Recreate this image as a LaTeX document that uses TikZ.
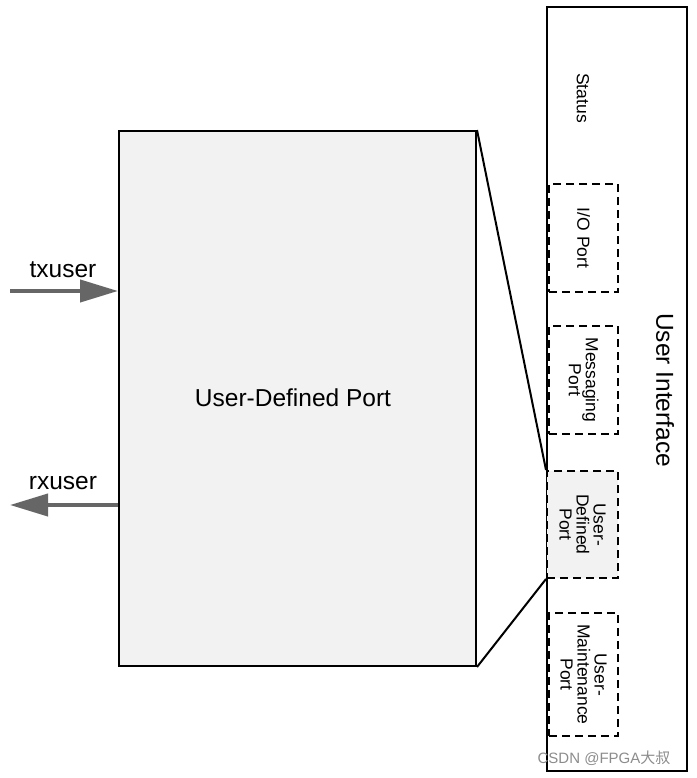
\documentclass[tikz,border=0pt]{standalone}
\usepackage{fontspec}
\setmainfont{Liberation Sans}
\newfontfamily\cjk{Noto Sans CJK SC}
\usetikzlibrary{arrows.meta}
\begin{document}
\begin{tikzpicture}[x=1pt,y=-1pt,
  box/.style={draw,line width=2pt},
  dbox/.style={draw,line width=2pt,dash pattern=on 8pt off 5pt},
  vlab/.style={rotate=-90,font=\fontsize{17.5}{17}\selectfont,align=center},
  arr/.style={draw=black!60,line width=4pt,-{Triangle[length=38pt,width=22pt]}},
  lab/.style={font=\fontsize{24.5}{26}\selectfont}]
\useasboundingbox (0,0) rectangle (696,778);
\node[box,fill=black!5,minimum width=357pt,minimum height=535pt,anchor=north west] (udp) at (118,130) {};
\node[lab] (udptext) at (293,398) {User-Defined Port};
\node[box,minimum width=140pt,minimum height=764pt,anchor=north west] (ui) at (546,6) {};
\node[lab,rotate=-90] (uitext) at (665,390) {User Interface};
\node[vlab] (status) at (583,98) {Status};
\node[dbox,minimum width=69pt,minimum height=108pt,anchor=north west] (io) at (548,183) {};
\node[vlab] at (io.center) {I/O Port};
\node[dbox,minimum width=69pt,minimum height=108pt,anchor=north west] (msg) at (548,325) {};
\node[vlab] at (msg.center) {Messaging\\Port};
\node[dbox,fill=black!5,minimum width=71pt,minimum height=107pt,anchor=north west] (ud) at (546,470) {};
\node[vlab] at (ud.center) {User-\\Defined\\Port};
\node[dbox,minimum width=69pt,minimum height=123pt,anchor=north west] (mt) at (548,612) {};
\node[vlab] at (mt.center) {User-\\Maintenance\\Port};
\draw[line width=2pt] (udp.north east) -- (ud.north west);
\draw[line width=2pt] (udp.south east) -- (ud.south west);
\coordinate (txs) at (10,291);
\coordinate (txe) at (118,291);
\coordinate (rxs) at (118,505);
\coordinate (rxe) at (10,505);
\draw[arr] (txs) -- (txe);
\draw[arr] (rxs) -- (rxe);
\node[lab] (tx) at (63,270) {txuser};
\node[lab] (rx) at (63,483) {rxuser};
\node[font=\fontsize{15}{16}\selectfont,text=black!45] (wm) at (604,758) {CSDN @FPGA{\cjk 大叔}};
\end{tikzpicture}
\end{document}
